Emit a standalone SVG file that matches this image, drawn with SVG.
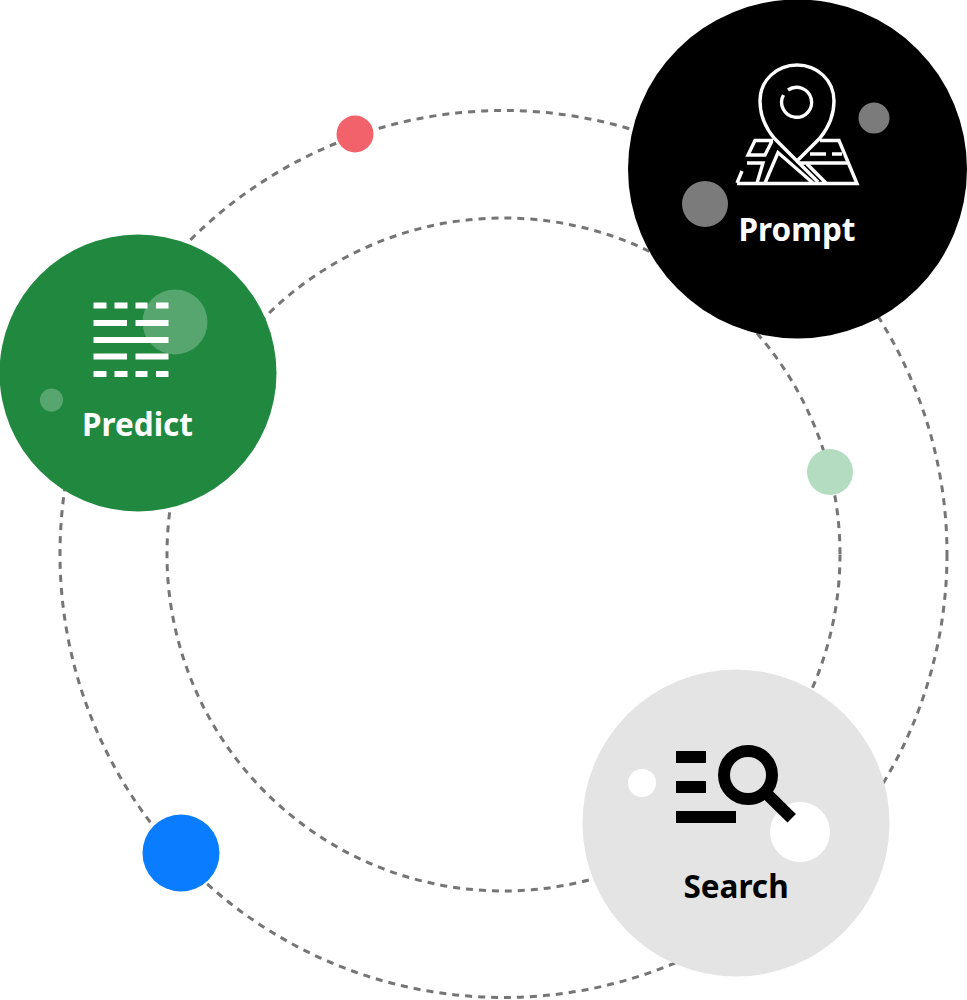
<svg xmlns="http://www.w3.org/2000/svg" width="967" height="1000" viewBox="0 0 967 1000">
<style>
.ring{fill:none;stroke:#757575;stroke-width:3;stroke-dasharray:7 6}
.lbl{font-family:"Noto Sans","Open Sans",sans-serif;font-weight:700;font-size:31.500px;text-anchor:middle}
.w{fill:#fff}
.map{fill:none;stroke:#fff;stroke-width:3.400}
</style>
<rect width="967" height="1000" fill="#fff"/>
<g id="connectors">
<circle class="ring" cx="503.500" cy="554" r="443.500"/>
<circle class="ring" cx="503.500" cy="554.500" r="336.500"/>
</g>
<g id="dot-red"><circle cx="355" cy="134" r="18.500" fill="#f2626a"/></g>
<g id="dot-green"><circle cx="830" cy="472" r="23" fill="#b3dcc0"/></g>
<g id="dot-blue"><circle cx="181" cy="853" r="38.500" fill="#0a7cff"/></g>
<g id="prompt">
<circle cx="797.500" cy="169" r="169.500" fill="#000"/>
<circle cx="874" cy="118" r="15.500" fill="#7b7b7b"/>
<circle cx="705" cy="204" r="23" fill="#7b7b7b"/>
<path class="map" d="M797 161L774 138C765 127 760 113 760 101C760 80 777 65 797 65C817 65 834 80 834 101C834 113 829 127 820 138Z"/>
<path class="map" d="M783.500 95A15 15 0 1 0 788 90"/>
<path class="map" d="M737 183.500H857L839 140.500H820M773 140.500H755L748 155H765L772 141M747 163H763L757 183M742 171L737 183M765 183L778 152.500L813 183M797 161L818 182M807 164L826 183M800 163H848M810 154H826M832 154H842"/>
<text class="lbl w" x="797" y="240.500">Prompt</text>
</g>
<g id="predict">
<circle cx="138" cy="373" r="138.500" fill="#20883f"/>
<circle cx="175" cy="322" r="32.500" fill="#fff" fill-opacity=".25"/>
<circle cx="51.500" cy="400" r="11.500" fill="#fff" fill-opacity=".25"/>
<g class="w">
<rect x="93.500" y="302.500" width="13" height="6"/><rect x="114.500" y="302.500" width="13" height="6"/><rect x="135.500" y="302.500" width="12" height="6"/><rect x="156" y="302.500" width="12.500" height="6"/>
<rect x="93.500" y="320" width="33.500" height="6"/><rect x="135.500" y="320" width="33" height="6"/>
<rect x="93.500" y="337" width="75" height="6"/>
<rect x="93.500" y="353.500" width="33.500" height="6"/><rect x="135.500" y="353.500" width="33" height="6"/>
<rect x="93.500" y="371" width="13" height="6"/><rect x="114.500" y="371" width="13" height="6"/><rect x="135.500" y="371" width="12" height="6"/><rect x="156" y="371" width="12.500" height="6"/>
</g>
<text class="lbl w" x="137.500" y="435.500">Predict</text>
</g>
<g id="search">
<circle cx="736" cy="823" r="153.500" fill="#e4e4e4"/>
<circle cx="642" cy="783" r="14" fill="#fff"/>
<circle cx="800" cy="832" r="30" fill="#fff"/>
<rect x="676" y="751" width="30" height="12"/>
<rect x="676" y="781" width="30" height="12"/>
<rect x="676" y="811" width="60" height="12"/>
<circle cx="748" cy="775" r="24" fill="none" stroke="#000" stroke-width="12"/>
<path d="M766 793L791.700 818.300" fill="none" stroke="#000" stroke-width="12"/>
<text class="lbl" x="736" y="898">Search</text>
</g>
</svg>
